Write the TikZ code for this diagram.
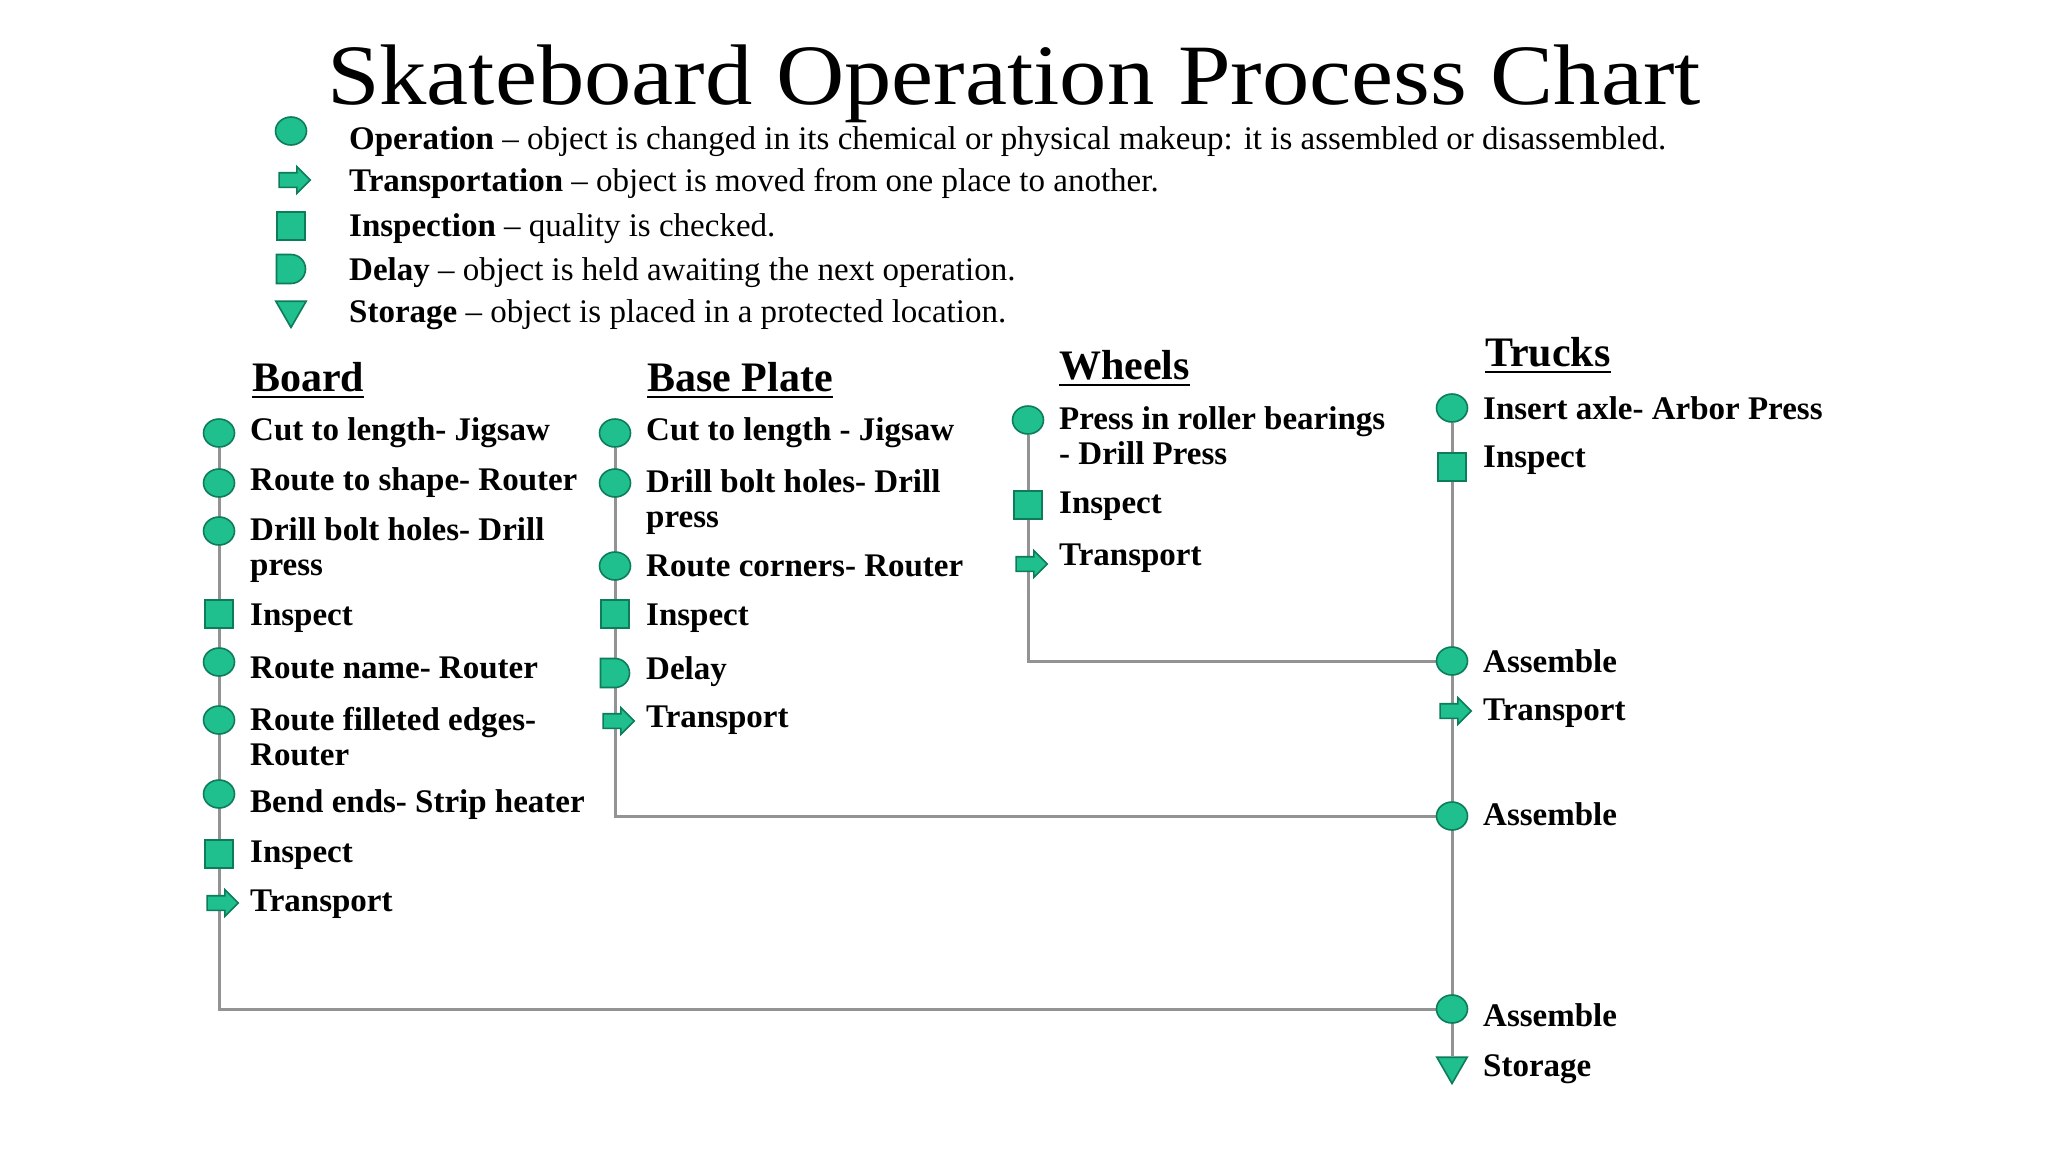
\documentclass[tikz,border=0pt]{standalone}
\usepackage{fontspec}
\usepackage{graphicx}
\setmainfont{Liberation Serif}
\usetikzlibrary{positioning,shapes.geometric,shapes.misc,shapes.arrows,backgrounds}

\definecolor{symfill}{HTML}{1FBF8E}
\definecolor{symdraw}{HTML}{0D7C5A}
\definecolor{flowgray}{HTML}{939393}

\begin{document}
\begin{tikzpicture}[x=1pt, y=-1pt, node distance=31pt]

        % Styles
        \tikzstyle{symbol} = [draw=symdraw, fill=symfill, line width=1.6pt, inner sep=0pt]
        \tikzstyle{operation} = [symbol, ellipse, minimum width=31pt, minimum height=28pt]
        \tikzstyle{inspection} = [symbol, rectangle, minimum size=28pt]
        \tikzstyle{waiting} = [symbol, rounded rectangle, rounded rectangle left arc=none, minimum width=29pt, minimum height=29pt]
        \tikzstyle{transport} = [symbol, single arrow, text height=13pt, text depth=0pt, single arrow head extend=6pt, single arrow head indent=0pt, minimum height=31pt]
        \tikzstyle{storage} = [symbol, regular polygon, regular polygon sides=3, shape border rotate=180, minimum size=35pt]
        \tikzstyle{item} = [inner sep=0pt, align=left, font=\fontsize{33}{35}\selectfont\bfseries]
        \tikzstyle{legendtext} = [inner sep=0pt, font=\fontsize{33}{35}\selectfont]
        \tikzstyle{heading} = [inner sep=0pt, anchor=base west, font=\fontsize{42}{44}\selectfont\bfseries]
        \tikzstyle{underline} = [line width=2.5pt]
        \tikzstyle{flow} = [draw=flowgray, line width=3pt]

        \useasboundingbox (0,0) rectangle (2048,1152);

        % Title and legend
        \node[inner sep=0pt, anchor=base, text depth=0pt, font=\fontsize{86}{90}\selectfont] (title) at (1014,104) {\scalebox{1.1}[1]{Skateboard Operation Process Chart}};

        \node[operation] (l1) at (291,131) {};
        \node[legendtext, right=58pt of l1.center, yshift=-11pt] (l1t) {\textbf{Operation} – object is changed in its chemical or physical makeup: it is assembled or disassembled.};
        \node[transport] (l2) at (291,180) {};
        \node[legendtext, right=58pt of l2.center, yshift=-3pt] (l2t) {\textbf{Transportation} – object is moved from one place to another.};
        \node[inspection] (l3) at (291,226) {};
        \node[legendtext, right=58pt of l3.center, yshift=-3pt] (l3t) {\textbf{Inspection} – quality is checked.};
        \node[waiting] (l4) at (291,269) {};
        \node[legendtext, right=58pt of l4.center, yshift=-4pt] (l4t) {\textbf{Delay} – object is held awaiting the next operation.};
        \node[storage] (l5) at (291,310) {};
        \node[legendtext, right=58pt of l5.center, yshift=-5pt] (l5t) {\textbf{Storage} – object is placed in a protected location.};

        % Board
        \node[heading] (hboard) at (252,391) {Board};
        \node[operation] (b1) at (219,433) {};
        \node[item, right=of b1.center] (b1t) {Cut to length- Jigsaw};
        \node[operation] (b2) at (219,483) {};
        \node[item, right=of b2.center] (b2t) {Route to shape- Router};
        \node[operation] (b3) at (219,531) {};
        \node[item, right=of b3.center, yshift=-19pt] (b3t) {Drill bolt holes- Drill\\press};
        \node[inspection] (b4) at (219,614) {};
        \node[item, right=of b4.center, yshift=-4pt] (b4t) {Inspect};
        \node[operation] (b5) at (219,662) {};
        \node[item, right=of b5.center, yshift=-6pt] (b5t) {Route name- Router};
        \node[operation] (b6) at (219,720) {};
        \node[item, right=of b6.center, yshift=-17pt] (b6t) {Route filleted edges-\\Router};
        \node[operation] (b7) at (219,794) {};
        \node[item, right=of b7.center, yshift=-11pt] (b7t) {Bend ends- Strip heater};
        \node[inspection] (b8) at (219,854) {};
        \node[item, right=of b8.center, yshift=-1pt] (b8t) {Inspect};
        \node[transport] (b9) at (219,903) {};
        \node[item, right=of b9.center, yshift=-1pt] (b9t) {Transport};

        % Base Plate
        \node[heading] (hplate) at (647,391) {Base Plate};
        \node[operation] (p1) at (615,433) {};
        \node[item, right=of p1.center] (p1t) {Cut to length - Jigsaw};
        \node[operation] (p2) at (615,483) {};
        \node[item, right=of p2.center, yshift=-19pt] (p2t) {Drill bolt holes- Drill\\press};
        \node[operation] (p3) at (615,566) {};
        \node[item, right=of p3.center] (p3t) {Route corners- Router};
        \node[inspection] (p4) at (615,614) {};
        \node[item, right=of p4.center, yshift=-4pt] (p4t) {Inspect};
        \node[waiting] (p5) at (615,673) {};
        \node[item, right=of p5.center, yshift=1pt] (p5t) {Delay};
        \node[transport] (p6) at (615,721) {};
        \node[item, right=of p6.center, yshift=1pt] (p6t) {Transport};

        % Wheels
        \node[heading] (hwheels) at (1059,379) {Wheels};
        \node[operation] (w1) at (1028,420) {};
        \node[item, right=of w1.center, yshift=-16pt] (w1t) {Press in roller bearings\\- Drill Press};
        \node[inspection] (w2) at (1028,505) {};
        \node[item, right=of w2.center, yshift=-1pt] (w2t) {Inspect};
        \node[transport] (w3) at (1028,564) {};
        \node[item, right=of w3.center, yshift=6pt] (w3t) {Transport};

        % Trucks
        \node[heading] (htrucks) at (1485,366) {Trucks};
        \node[operation] (t1) at (1452,408) {};
        \node[item, right=of t1.center] (t1t) {Insert axle- Arbor Press};
        \node[inspection] (t2) at (1452,467) {};
        \node[item, right=of t2.center, yshift=7pt] (t2t) {Inspect};
        \node[operation] (t3) at (1452,661) {};
        \node[item, right=of t3.center] (t3t) {Assemble};
        \node[transport] (t4) at (1452,711) {};
        \node[item, right=of t4.center, yshift=-2pt] (t4t) {Transport};
        \node[operation] (t5) at (1452,816) {};
        \node[item, right=of t5.center, yshift=2pt] (t5t) {Assemble};
        \node[operation] (t6) at (1452,1009) {};
        \node[item, right=of t6.center, yshift=-6pt] (t6t) {Assemble};
        \node[storage] (t7) at (1452,1066) {};
        \node[item, right=of t7.center, yshift=-3pt] (t7t) {Storage};

        % Underlines
        \draw[underline] ([yshift=-6pt]hboard.base west) -- ([yshift=-6pt]hboard.base east);
        \draw[underline] ([yshift=-6pt]hplate.base west) -- ([yshift=-6pt]hplate.base east);
        \draw[underline] ([yshift=-6pt]hwheels.base west) -- ([yshift=-6pt]hwheels.base east);
        \draw[underline] ([yshift=-6pt]htrucks.base west) -- ([yshift=-6pt]htrucks.base east);

        % Flow lines
        \coordinate (bcorner) at (b1 |- t6);
        \coordinate (pcorner) at (p1 |- t5);
        \coordinate (wcorner) at (w1 |- t3);
        \begin{scope}[on background layer]
            \fill[white] (0,0) rectangle (2048,1152);
            \draw[flow] (b1) -- (bcorner) -- (t6);
            \draw[flow] (p1) -- (pcorner) -- (t5);
            \draw[flow] (w1) -- (wcorner) -- (t3);
            \draw[flow] (t1) -- (t7);
        \end{scope}

\end{tikzpicture}
\end{document}
